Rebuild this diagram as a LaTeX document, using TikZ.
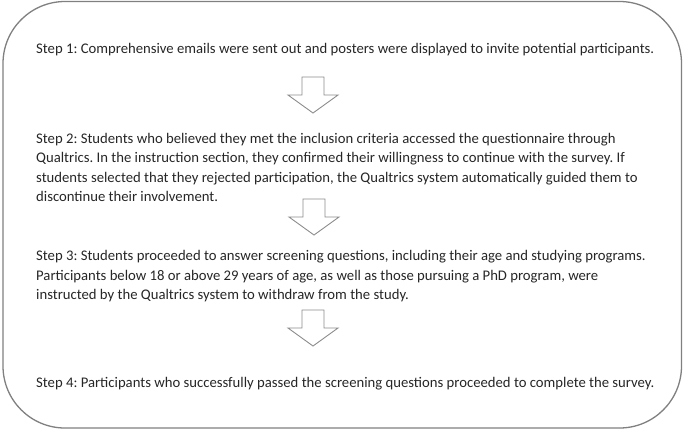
\documentclass[tikz,border=0pt]{standalone}
\usepackage{fontspec}
\setmainfont{Carlito}
\frenchspacing
\usetikzlibrary{positioning}
\tikzset{
  steptext/.style={anchor=base west, align=left, inner sep=0pt,
    font=\fontsize{14.7bp}{19.5bp}\selectfont, text=black!85},
  blockarrow/.style={draw=black!45, line width=0.9bp, fill=white},
  pics/downarrow/.style={code={
    \draw[blockarrow] (-11,0) -- (11,0) -- (11,18) -- (25,18) -- (0,36)
      -- (-25,18) -- (-11,18) -- cycle;}},
}
\begin{document}
\begin{tikzpicture}[x=1bp, y=-1bp]
\useasboundingbox (0,0) rectangle (685,430);
\draw[draw=black!50, line width=1.3bp, rounded corners=62bp] (3,1.5) rectangle (681.5,428);

% the base anchor of a multi-line node is its last line
\node[steptext] (step1) at (36,53.3) {Step 1: Comprehensive emails were sent out and posters were displayed to invite potential participants.};
\node[steptext] (step2) at (36,201.5) {Step 2: Students who believed they met the inclusion criteria accessed the questionnaire through\\
  Qualtrics. In the instruction section, they confirmed their willingness to continue with the survey. If\\
  students selected that they rejected participation, the Qualtrics system automatically guided them to\\
  discontinue their involvement.};
\node[steptext] (step3) at (36,299.5) {Step 3: Students proceeded to answer screening questions, including their age and studying programs.\\
  Participants below 18 or above 29 years of age, as well as those pursuing a PhD program, were\\
  instructed by the Qualtrics system to withdraw from the study.};
\node[steptext] (step4) at (36,387) {Step 4: Participants who successfully passed the screening questions proceeded to complete the survey.};

\pic (arrow1) at (313,77) {downarrow};
\pic (arrow2) at (314,199) {downarrow};
\pic (arrow3) at (313,310) {downarrow};
\end{tikzpicture}
\end{document}
